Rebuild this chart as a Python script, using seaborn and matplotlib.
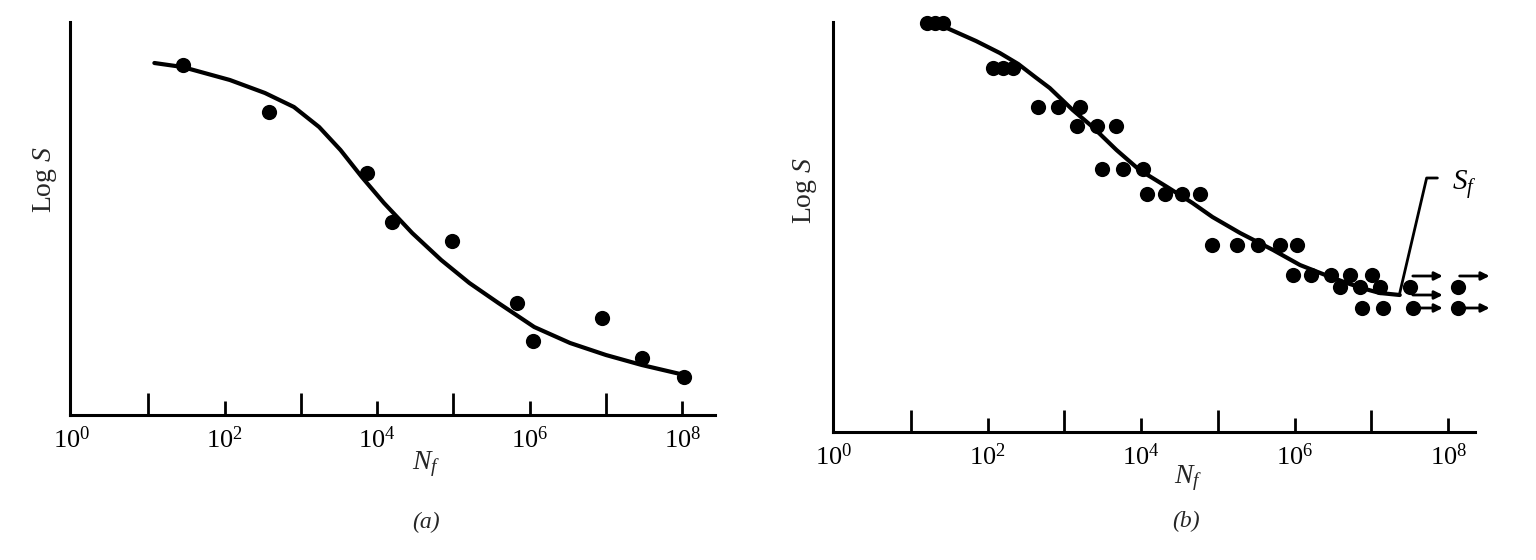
import matplotlib
matplotlib.use("Agg")
import matplotlib.pyplot as plt
import seaborn as sns
import pandas as pd

# ---------------- data (x = log10 N_f, y = Log S in arbitrary units) ----------------
# panel (a)
a_pts_logN = [1.45, 2.58, 3.87, 4.20, 4.98, 5.83, 6.05, 6.95, 7.47, 8.02]
a_pts_logS = [3.50, 3.03, 2.42, 1.93, 1.74, 1.12, 0.74, 0.97, 0.57, 0.38]
a_curve_logN = [1.08, 1.45, 2.07, 2.53, 2.91, 3.24, 3.52, 3.80, 4.09, 4.46, 4.84, 5.21,
                5.59, 6.06, 6.53, 7.00, 7.47, 8.03]
a_curve_logS = [3.52, 3.48, 3.35, 3.22, 3.08, 2.88, 2.65, 2.38, 2.12, 1.82, 1.55, 1.32,
                1.12, 0.88, 0.72, 0.60, 0.50, 0.40]

# panel (b)
b_pts_logN = [1.21, 1.32, 1.42,
              2.07, 2.20, 2.33,
              2.66, 2.92, 3.20,
              3.16, 3.42, 3.68,
              3.49, 3.76, 4.02,
              4.08, 4.31, 4.53, 4.77,
              4.93, 5.25, 5.52, 5.81, 6.03,
              5.98, 6.22, 6.48, 6.72, 7.01,
              6.59, 6.85, 7.11, 7.50, 8.13,
              6.88, 7.15, 7.54, 8.13]
b_pts_logS = [4.09, 4.09, 4.09,
              3.64, 3.64, 3.64,
              3.25, 3.25, 3.25,
              3.06, 3.06, 3.06,
              2.63, 2.63, 2.63,
              2.38, 2.38, 2.38, 2.38,
              1.87, 1.87, 1.87, 1.87, 1.87,
              1.57, 1.57, 1.57, 1.57, 1.57,
              1.45, 1.45, 1.45, 1.45, 1.45,
              1.24, 1.24, 1.24, 1.24]
b_curve_logN = [1.32, 1.47, 1.85, 2.16, 2.40, 2.62, 2.81, 3.11, 3.37, 3.68, 3.98, 4.34,
                4.67, 4.93, 5.29, 5.72, 6.07, 6.40, 6.68, 6.92, 7.11, 7.37]
b_curve_logS = [4.09, 4.04, 3.91, 3.79, 3.68, 3.55, 3.44, 3.22, 3.05, 2.82, 2.62, 2.45,
                2.29, 2.15, 1.99, 1.82, 1.67, 1.57, 1.49, 1.43, 1.39, 1.37]

# run-out arrows (panel b)
runout_start = [7.54, 8.15, 7.54, 7.63, 8.22]
runout_end = [7.93, 8.54, 7.93, 7.93, 8.54]
runout_logS = [1.56, 1.56, 1.37, 1.24, 1.24]

# S_f leader line
sf_leader_logN = [7.37, 7.72, 7.86]
sf_leader_logS = [1.39, 2.54, 2.54]

major_ticks = [0, 2, 4, 6, 8]
major_labels = [r"$\mathregular{10^{0}}$", r"$\mathregular{10^{2}}$", r"$\mathregular{10^{4}}$",
                r"$\mathregular{10^{6}}$", r"$\mathregular{10^{8}}$"]
minor_ticks = [1, 3, 5, 7]

# ---------------- style ----------------
sns.set_theme(style="white")
plt.rcParams["font.family"] = ["Liberation Serif", "DejaVu Serif"]
plt.rcParams["mathtext.fontset"] = "custom"
plt.rcParams["mathtext.rm"] = "Liberation Serif"
plt.rcParams["mathtext.it"] = "Liberation Serif:italic"

W, H = 1536, 560
fig = plt.figure(figsize=(W / 100, H / 100), dpi=100)
fig.patch.set_facecolor("white")


def px_axes(l, r, b, t):
    return fig.add_axes([l / W, 1 - b / H, (r - l) / W, (b - t) / H])


ax1 = px_axes(70, 715, 415, 22)
ax2 = px_axes(833, 1475, 432, 22)

dfa_pts = pd.DataFrame({"logN": a_pts_logN, "logS": a_pts_logS})
dfa_cur = pd.DataFrame({"logN": a_curve_logN, "logS": a_curve_logS})
dfb_pts = pd.DataFrame({"logN": b_pts_logN, "logS": b_pts_logS})
dfb_cur = pd.DataFrame({"logN": b_curve_logN, "logS": b_curve_logS})

for ax, pts, cur in [(ax1, dfa_pts, dfa_cur), (ax2, dfb_pts, dfb_cur)]:
    sns.lineplot(data=cur, x="logN", y="logS", ax=ax, color="black", lw=3.0,
                 sort=False, estimator=None, solid_joinstyle="round")
    sns.scatterplot(data=pts, x="logN", y="logS", ax=ax, color="black", s=120,
                    edgecolor="black", linewidth=0, clip_on=False, zorder=5)

ax1.set_xlim(-0.026, 8.43)
ax1.set_ylim(0, 3.93)
ax2.set_xlim(-0.013, 8.35)
ax2.set_ylim(0, 4.10)

for ax in (ax1, ax2):
    ax.set_facecolor("white")
    for s in ("top", "right"):
        ax.spines[s].set_visible(False)
    for s in ("left", "bottom"):
        ax.spines[s].set_color("black")
        ax.spines[s].set_linewidth(2.2)
    ax.set_yticks([])
    ax.set_xticks(major_ticks)
    ax.set_xticklabels(major_labels, fontsize=19)
    ax.set_xticks(minor_ticks, minor=True)
    ax.tick_params(axis="x", which="major", bottom=True, direction="in", length=10,
                   width=2, color="black", pad=8, labelcolor="black")
    ax.tick_params(axis="x", which="minor", bottom=True, direction="in", length=16,
                   width=2, color="black")
    ax.xaxis.get_major_ticks()[0].tick1line.set_visible(False)
    ax.set_xlabel("")
    ax.set_ylabel("")

# arrows for run-outs
for xs, xe, yy in zip(runout_start, runout_end, runout_logS):
    ax2.annotate("", xy=(xe, yy), xytext=(xs, yy),
                 arrowprops=dict(arrowstyle="-|>", color="black", lw=2,
                                 mutation_scale=12, shrinkA=0, shrinkB=0),
                 annotation_clip=False)

# S_f leader and label
ax2.plot(sf_leader_logN, sf_leader_logS, color="black", lw=2, clip_on=False)
ax2.text(8.05, 2.47, r"$S_f$", fontsize=21, ha="left", va="center", color="black")

# labels
fig.text(45 / W, 1 - 179 / H, r"Log $S$", rotation=90, fontsize=20, ha="center", va="center")
fig.text(805 / W, 1 - 190 / H, r"Log $S$", rotation=90, fontsize=20, ha="center", va="center")
fig.text(426 / W, 1 - 464 / H, r"$N_f$", fontsize=20, ha="center", va="center")
fig.text(1188 / W, 1 - 478 / H, r"$N_f$", fontsize=20, ha="center", va="center")
fig.text(426 / W, 1 - 522 / H, "(a)", fontsize=17, style="italic", ha="center", va="center")
fig.text(1186 / W, 1 - 521 / H, "(b)", fontsize=17, style="italic", ha="center", va="center")

fig.savefig("out.png", dpi=100, facecolor="white")
